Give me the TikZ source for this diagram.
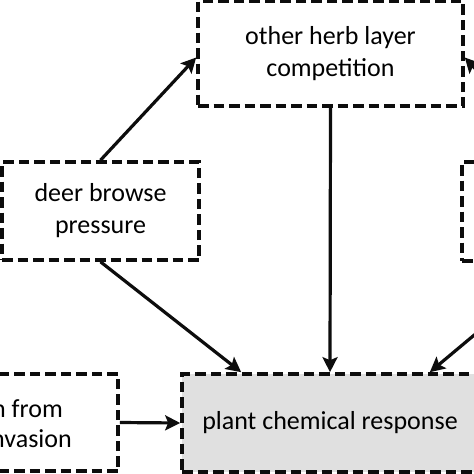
\documentclass[tikz,border=0pt]{standalone}
\usepackage{fontspec}
\setmainfont{Carlito}
\usetikzlibrary{arrows.meta,calc}
\begin{document}
\begin{tikzpicture}[x=1pt,y=-1pt,
  dbox/.style={draw=black!95,line width=3.6pt,dash pattern=on 10.5pt off 5pt,rectangle,inner sep=0pt,align=center,
    font=\fontsize{26}{32}\selectfont,text=black},
  lbl/.style={inner sep=0pt,font=\fontsize{26}{32}\selectfont,text=black},
  arr/.style={line width=3.2pt,draw=black!95,-{Stealth[length=15pt,width=15pt,inset=3pt]}}]
\useasboundingbox (0,0) rectangle (474,474);
\clip (0,0) rectangle (474,474);
\fill[white] (0,0) rectangle (474,474);
\node[dbox,minimum width=265pt,minimum height=105pt] (top) at (330.5,53.5) {other herb layer\\competition};
\node[dbox,minimum width=197pt,minimum height=98pt] (deer) at (100.5,211) {deer browse\\pressure};
\node[dbox,minimum width=197pt,minimum height=99pt] (right) at (560.5,211.5) {};
\node[dbox,minimum width=197pt,minimum height=97pt] (bl) at (19.5,422.5) {};
\node[dbox,fill=black!12,minimum width=296pt,minimum height=98pt] (bottom) at (330,423) {plant chemical response};
\node[lbl,anchor=base east] (bl1) at (63,417) {n from};
\node[lbl,anchor=base east] (bl2) at (72,447) {nvasion};
\coordinate (tl) at ($(top.west)+(0,4)$);
\coordinate (tr) at ($(top.east)+(0,4)$);
\coordinate (b1) at ($(bottom.north west)+(61,0)$);
\coordinate (b3) at ($(bottom.north east)+(-50,0)$);
\draw[arr] (deer.north) -- (tl);
\draw[arr] (right.north) -- (tr);
\draw[arr] (top.south) -- (bottom.north);
\draw[arr] (deer.south) -- (b1);
\draw[arr] (right.south) -- (b3);
\draw[arr] (bl.east) -- (bottom.west);
\end{tikzpicture}
\end{document}
